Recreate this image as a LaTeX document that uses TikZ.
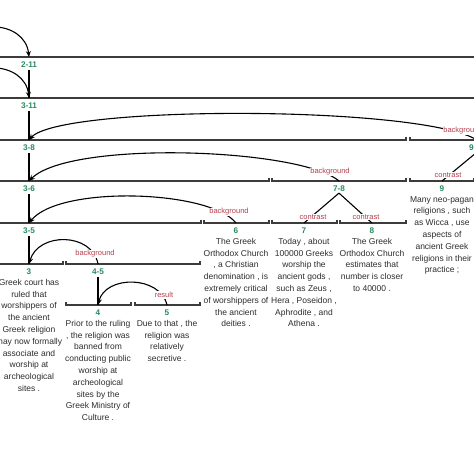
\documentclass[tikz,border=0pt]{standalone}
\usepackage{fontspec}
\setmainfont{Liberation Sans}
\usetikzlibrary{arrows.meta}
\definecolor{spangreen}{RGB}{40,140,95}
\definecolor{relred}{RGB}{180,62,75}
\definecolor{txtgrey}{RGB}{45,45,45}
\definecolor{linegrey}{RGB}{60,60,60}
\tikzset{
  seg/.style={draw=linegrey, line width=1.2pt},
  spanlbl/.style={text=spangreen, font=\fontsize{8.2}{9}\selectfont\bfseries, inner sep=0pt},
  rel/.style={text=relred, font=\fontsize{7.5}{9}\selectfont, fill=white, inner sep=0.8pt},
  edu/.style={text=txtgrey, font=\fontsize{8.5}{11.8}\selectfont, align=center, anchor=north, inner sep=0pt},
  nucl/.style={draw=black, line width=1.1pt},
  arcrel/.style={draw=black, line width=1.1pt, -{Stealth[length=6pt,width=5pt]}},
  multi/.style={draw=black, line width=1.1pt}
}
\begin{document}
\begin{tikzpicture}[x=1pt,y=-1pt]
\useasboundingbox (0,0) rectangle (474,474);
\clip (0,0) rectangle (474,474);
\fill[white] (0,0) rectangle (474,474);

% ---------- horizontal span lines ----------
\draw[seg] (-10,57) -- (490,57);
\draw[seg] (-10,98) -- (490,98);
% level 3
\draw[seg] (-4,137) -- (-4,140) -- (406,140) -- (406,137);
\draw[seg] (410,137) -- (410,140) -- (520,140);
% level 4
\draw[seg] (-4,178) -- (-4,181) -- (269,181) -- (269,178);
\draw[seg] (272,178) -- (272,181) -- (406,181) -- (406,178);
\draw[seg] (410,178) -- (410,181) -- (474,181) -- (474,178);
% level 5
\draw[seg] (-4,220) -- (-4,223) -- (201,223) -- (201,220);
\draw[seg] (204,220) -- (204,223) -- (269,223) -- (269,220);
\draw[seg] (272,220) -- (272,223) -- (337,223) -- (337,220);
\draw[seg] (340,220) -- (340,223) -- (406,223) -- (406,220);
% level 6
\draw[seg] (-4,261) -- (-4,264) -- (63,264) -- (63,261);
\draw[seg] (66,261) -- (66,264) -- (200,264) -- (200,261);
% level 7
\draw[seg] (66,302) -- (66,305) -- (131,305) -- (131,302);
\draw[seg] (135,302) -- (135,305) -- (200,305) -- (200,302);

% ---------- anchor coordinates (tops of spans) ----------
\coordinate (t211) at (29,57);
\coordinate (t311) at (29,98);
\coordinate (t38) at (29,140);
\coordinate (t911) at (477,140);
\coordinate (t36) at (29,181);
\coordinate (t78) at (339,181);
\coordinate (t9) at (442,181);
\coordinate (t35) at (29,223);
\coordinate (t6) at (236,223);
\coordinate (t7) at (304,223);
\coordinate (t8) at (372,223);
\coordinate (t3) at (29,264);
\coordinate (t45) at (98,264);
\coordinate (t4) at (98,305);
\coordinate (t5) at (167,305);
\coordinate (offA) at (-45,57);
\coordinate (offB) at (-45,98);

% ---------- span labels ----------
\node[spanlbl] (l211) at (29,65) {2-11};
\node[spanlbl] (l311) at (29,106) {3-11};
\node[spanlbl] (l38) at (29,148) {3-8};
\node[spanlbl] (l911) at (477,148) {9-11};
\node[spanlbl] (l36) at (29,189) {3-6};
\node[spanlbl] (l78) at (339,189) {7-8};
\node[spanlbl] (l9) at (442,189) {9};
\node[spanlbl] (l35) at (29,231) {3-5};
\node[spanlbl] (l6) at (236,231) {6};
\node[spanlbl] (l7) at (304,231) {7};
\node[spanlbl] (l8) at (372,231) {8};
\node[spanlbl] (l3) at (29,272) {3};
\node[spanlbl] (l45) at (98,272) {4-5};
\node[spanlbl] (l4) at (98,313) {4};
\node[spanlbl] (l5) at (167,313) {5};

% ---------- nucleus verticals ----------
\draw[nucl] ([yshift=-2pt]l211.south) -- (t311);
\draw[nucl] ([yshift=-2pt]l311.south) -- (t38);
\draw[nucl] ([yshift=-2pt]l38.south) -- (t36);
\draw[nucl] ([yshift=-2pt]l36.south) -- (t35);
\draw[nucl] ([yshift=-2pt]l35.south) -- (t3);
\draw[nucl] ([yshift=-2pt]l45.south) -- (t4);

% ---------- relation arcs ----------
\draw[arcrel] (offA) .. controls (-35,15) and (25,20) .. (t211);
\draw[arcrel] (offB) .. controls (-35,56) and (25,61) .. (t311);
\draw[arcrel] (t911) .. controls (420,105) and (60,105) .. (t38);
\draw[arcrel] (t78) .. controls (300,148) and (70,140) .. (t36);
\draw[arcrel] (t6) .. controls (210,190) and (60,185) .. (t35);
\draw[arcrel] (t45) .. controls (92,232) and (38,232) .. (t3);
\draw[arcrel] (t5) .. controls (160,275) and (105,275) .. (t4);

% ---------- multinuclear lines ----------
\draw[multi] ([yshift=-1pt]l78.south) -- (t7);
\draw[multi] ([yshift=-1pt]l78.south) -- (t8);
\draw[multi] (t9) -- ([yshift=-1pt]l911.south);

% ---------- relation labels ----------
\node[rel] (r1) at (463,131) {background};
\node[rel] (r2) at (330,172) {background};
\node[rel] (r3) at (448,175) {contrast};
\node[rel] (r4) at (229,212) {background};
\node[rel] (r5) at (313,217) {contrast};
\node[rel] (r6) at (366,217) {contrast};
\node[rel] (r7) at (95,254) {background};
\node[rel] (r8) at (164,295) {result};

% ---------- elementary units ----------
\node[edu] (e3) at (29,279) {Greek court has\\ruled that\\worshippers of\\the ancient\\Greek religion\\may now formally\\associate and\\worship at\\archeological\\sites .};
\node[edu] (e4) at (98,320) {Prior to the ruling\\, the religion was\\banned from\\conducting public\\worship at\\archeological\\sites by the\\Greek Ministry of\\Culture .};
\node[edu] (e5) at (167,320) {Due to that , the\\religion was\\relatively\\secretive .};
\node[edu] (e6) at (236,238) {The Greek\\Orthodox Church\\, a Christian\\denomination , is\\extremely critical\\of worshippers of\\the ancient\\deities .};
\node[edu] (e7) at (304,238) {Today , about\\100000 Greeks\\worship the\\ancient gods ,\\such as Zeus ,\\Hera , Poseidon ,\\Aphrodite , and\\Athena .};
\node[edu] (e8) at (372,238) {The Greek\\Orthodox Church\\estimates that\\number is closer\\to 40000 .};
\node[edu] (e9) at (442,196) {Many neo-pagan\\religions , such\\as Wicca , use\\aspects of\\ancient Greek\\religions in their\\practice ;};
\end{tikzpicture}
\end{document}
